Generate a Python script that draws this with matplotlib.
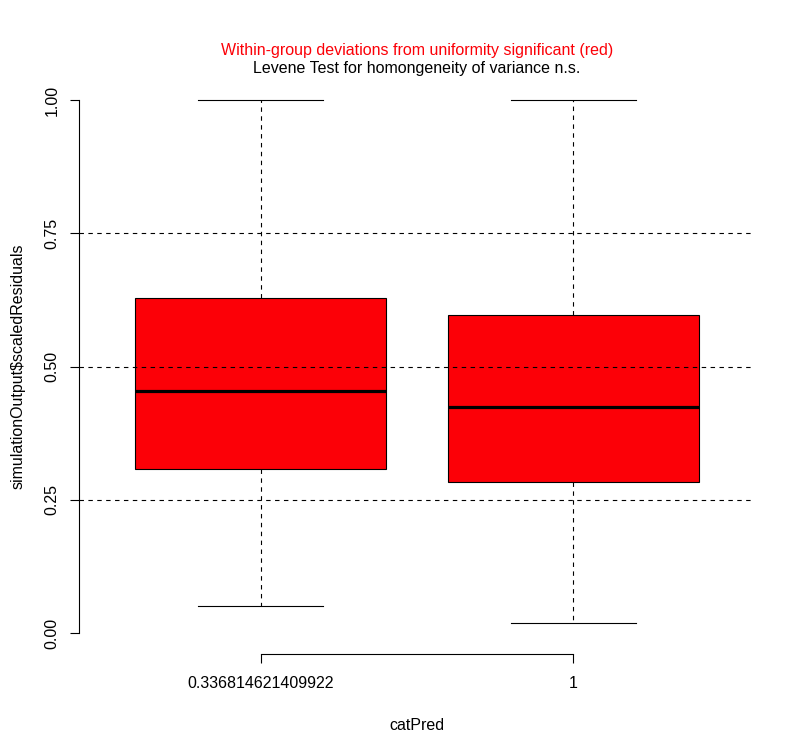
import matplotlib
matplotlib.use("Agg")
import matplotlib.pyplot as plt

plt.rcParams['font.family'] = ['Liberation Sans', 'DejaVu Sans']

# box summaries
groups = ['0.336814621409922', '1']
whislo = [0.051, 0.019]
q1 = [0.307, 0.283]
med = [0.454, 0.424]
q3 = [0.628, 0.597]
whishi = [1.0, 1.0]
gridlines = [0.25, 0.5, 0.75]
yticks = [0.0, 0.25, 0.5, 0.75, 1.0]

W, H = 795, 753
fig = plt.figure(figsize=(W / 100, H / 100), dpi=100)
ax = fig.add_axes([79 / W, 1 - 654.3 / H, (755 - 79) / W, (654.3 - 78.7) / H])

stats = []
for i in range(len(groups)):
    stats.append(dict(whislo=whislo[i], q1=q1[i], med=med[i], q3=q3[i],
                      whishi=whishi[i], fliers=[]))

pos = list(range(1, len(groups) + 1))
ax.bxp(stats, positions=pos, widths=0.8, patch_artist=True, showfliers=False,
       boxprops=dict(facecolor='#fc0007', edgecolor='black', linewidth=0.8),
       medianprops=dict(color='black', linewidth=2.3, solid_capstyle='butt'),
       whiskerprops=dict(color='black', linewidth=0.8, linestyle=(0, (4, 4))),
       capprops=dict(color='black', linewidth=0.8), capwidths=0.4)

for g in gridlines:
    ax.axhline(g, color='black', linewidth=0.8, linestyle=(0, (4, 4)), zorder=5)

ax.set_xlim(0.42, 2.58)
ax.set_ylim(-0.04, 1.04)

for s in ['top', 'right']:
    ax.spines[s].set_visible(False)
ax.spines['left'].set_bounds(0, 1)
ax.spines['bottom'].set_bounds(1, 2)
ax.spines['left'].set_linewidth(0.8)
ax.spines['bottom'].set_linewidth(0.8)

ax.set_xticks(pos)
ax.set_xticklabels(groups)
ax.set_yticks(yticks)
ax.set_yticklabels(['%.2f' % v for v in yticks], rotation=90, va='center')
ax.tick_params(direction='out', length=6.8, width=0.8, labelsize=11.5, pad=7)
ax.tick_params(axis='x', pad=9)

ax.set_xlabel('catPred', fontsize=11.5, labelpad=19)
ax.set_ylabel('simulationOutput$scaledResiduals', fontsize=11.5, labelpad=14)

fig.text((79 + 755) / 2 / W, 1 - 50 / H,
         'Within-group deviations from uniformity significant (red)',
         color='#fc0007', fontsize=11.5, ha='center', va='center')
fig.text((79 + 755) / 2 / W, 1 - 69 / H,
         'Levene Test for homongeneity of variance n.s.',
         color='black', fontsize=11.5, ha='center', va='center')

fig.savefig('out.png', dpi=100)
